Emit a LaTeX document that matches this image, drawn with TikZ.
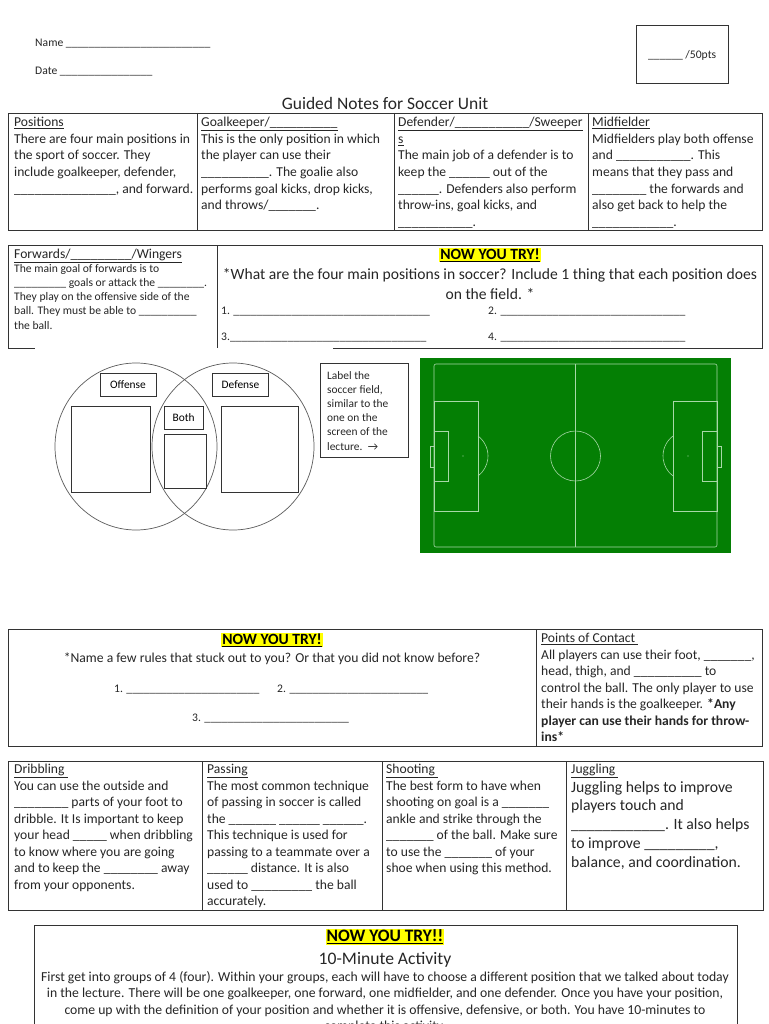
\documentclass[tikz,border=0pt]{standalone}
\usepackage{fontspec}
\setmainfont{Carlito}
\usepackage{xcolor}
\definecolor{Rule}{HTML}{333333}
\definecolor{Pitch}{HTML}{047F04}
\definecolor{PitchLine}{HTML}{A8D8A8}
\definecolor{Mark}{HTML}{FFFF00}
\catcode`\_=12
\tikzset{
  rulebox/.style={draw=Rule,line width=0.9pt},
  cell/.style={anchor=north west,align=left,inner sep=0pt,text=black!85},
  bodytext/.style={cell,font=\fontsize{13.6}{16.55}\selectfont},
  smalltext/.style={cell,font=\fontsize{11.6}{14.2}\selectfont},
  bigtext/.style={cell,font=\fontsize{15.7}{18.8}\selectfont},
  centertext/.style={inner sep=0pt,align=center,text=black!85},
  tryit/.style={inner sep=1pt,fill=Mark,font=\bfseries\fontsize{15.6}{17}\selectfont},
  vennlabel/.style={draw=Rule,line width=0.9pt,inner sep=0pt,font=\fontsize{11.4}{13}\selectfont},
  fieldline/.style={draw=PitchLine,line width=0.6pt},
}
\begin{document}
\begin{tikzpicture}[x=1pt,y=-1pt]
  \useasboundingbox (0,0) rectangle (768,1024);
  \fill[white] (0,0) rectangle (768,1024);

  % Name and score
  \node[smalltext] (name) at (35,38.5) {Name _________________________};
  \node[smalltext] (date) at (35,66.5) {Date ________________};
  \draw[rulebox] (636,25) rectangle (728,83);
  \node[smalltext] (score) at (648,50.5) {______ /50pts};
  \node[centertext,font=\fontsize{17.5}{20}\selectfont] (title) at (385,103) {Guided Notes for Soccer Unit};

  % First table
  \draw[rulebox] (8,113) rectangle (762,230);
  \draw[rulebox] (197,113) -- (197,230);
  \draw[rulebox] (394,113) -- (394,230);
  \draw[rulebox] (588,113) -- (588,230);
  \node[bodytext] (positions) at (14,117.2) {\underline{Positions}\\There are four main positions in\\the sport of soccer. They\\include goalkeeper, defender,\\_______________, and forward.};
  \node[bodytext] (goalkeeper) at (201,117.2) {\underline{Goalkeeper/__________}\\This is the only position in which\\the player can use their\\__________. The goalie also\\performs goal kicks, drop kicks,\\and throws/_______.};
  \node[bodytext] (defender) at (398,117.2) {\underline{Defender/___________/Sweeper}\\\underline{s}\\The main job of a defender is to\\keep the ______ out of the\\______. Defenders also perform\\throw-ins, goal kicks, and\\___________.};
  \node[bodytext] (midfielder) at (592,117.2) {\underline{Midfielder}\\Midfielders play both offense\\and ___________. This\\means that they pass and\\________ the forwards and\\also get back to help the\\____________.};

  % Second table
  \draw[rulebox] (8,348) -- (8,245) -- (762,245) -- (762,348) -- (333,348);
  \draw[rulebox] (8,348) -- (35,348);
  \draw[rulebox] (217,245) -- (217,348);
  \node[smalltext] (forwards) at (14,264) {The main goal of forwards is to\\_________ goals or attack the ________.\\They play on the offensive side of the\\ball. They must be able to __________\\the ball.};
  \node[bodytext] (forwardshead) at (14,248.5) {\underline{Forwards/_________/Wingers}};
  \node[tryit] (tryone) at (490,255) {\underline{NOW YOU TRY!}};
  \node[centertext,font=\fontsize{15.6}{20}\selectfont] (question) at (490,284) {*What are the four main positions in soccer? Include 1 thing that each position does\\on the field. *};
  \node[smalltext] (itemone) at (221,306.5) {1. __________________________________};
  \node[smalltext] (itemtwo) at (488,306.5) {2. ________________________________};
  \node[smalltext] (itemthree) at (221,333) {3.__________________________________};
  \node[smalltext] (itemfour) at (488,333) {4. ________________________________};

  % Venn diagram
  \draw[draw=Rule!80,line width=0.7pt] (136,446.5) ellipse [x radius=81,y radius=83.5];
  \draw[draw=Rule!80,line width=0.7pt] (233,446.5) ellipse [x radius=81,y radius=83.5];
  \node[vennlabel,minimum width=56pt,minimum height=23pt] (offense) at (128,384.5) {Offense};
  \node[vennlabel,minimum width=56pt,minimum height=23pt] (defense) at (240.5,384.5) {Defense};
  \node[vennlabel,minimum width=38.5pt,minimum height=23pt] (both) at (183.7,417.5) {Both};
  \draw[rulebox] (71,406) rectangle (150,492);
  \draw[rulebox] (164.4,434) rectangle (206.6,488);
  \draw[rulebox] (221,406) rectangle (298,492);

  % Label box
  \draw[rulebox] (320,363) rectangle (408,457);
  \node[cell,font=\fontsize{11.4}{14.2}\selectfont] (labeltext) at (327,371) {Label the\\soccer field,\\similar to the\\one on the\\screen of the\\lecture. \,→};

  % Soccer field
  \fill[Pitch] (420,358) rectangle (731,553);
  \draw[fieldline] (436,364) -- (715,364) arc [start angle=-90,end angle=0,radius=2] -- (717,545) arc [start angle=0,end angle=90,radius=2] -- (436,547) arc [start angle=90,end angle=180,radius=2] -- (434,366) arc [start angle=180,end angle=270,radius=2];
  \draw[fieldline] (575.5,364) -- (575.5,547);
  \draw[fieldline] (575.5,456) circle [radius=25];
  % left end
  \draw[fieldline] (434,401) rectangle (478,511);
  \draw[fieldline] (434,431) rectangle (448.4,481);
  \draw[fieldline] (430,446) rectangle (434,467);
  \draw[fieldline] (478,436) arc [start angle=-53.13,end angle=53.13,radius=25];
  \fill[PitchLine] (463,456) circle [radius=0.6];
  % right end
  \draw[fieldline] (673,401) rectangle (717,511);
  \draw[fieldline] (702.6,431) rectangle (717,481);
  \draw[fieldline] (717,446) rectangle (721,467);
  \draw[fieldline] (673,436) arc [start angle=233.13,end angle=126.87,radius=25];
  \fill[PitchLine] (688,456) circle [radius=0.6];
  \fill[PitchLine] (575.5,456) circle [radius=0.6];

  % Third table
  \draw[rulebox] (8,629.5) rectangle (762,746);
  \draw[rulebox] (536,629.5) -- (536,746);
  \node[tryit] (trytwo) at (272,640) {\underline{NOW YOU TRY!}};
  \node[centertext,font=\fontsize{13.65}{15}\selectfont] (rules) at (272,659) {*Name a few rules that stuck out to you? Or that you did not know before?};
  \node[smalltext] (ruleone) at (114,685) {1. _______________________};
  \node[smalltext] (ruletwo) at (277,685) {2. ________________________};
  \node[smalltext] (rulethree) at (192,714) {3. _________________________};
  \node[bodytext] (contact) at (541,633) {\underline{Points of Contact }\\All players can use their foot, _______,\\head, thigh, and __________ to\\control the ball. The only player to use\\their hands is the goalkeeper. \textbf{*Any}\\\textbf{player can use their hands for throw-}\\\textbf{ins*}};

  % Fourth table
  \draw[rulebox] (8,761) rectangle (763,910);
  \draw[rulebox] (202,761) -- (202,910);
  \draw[rulebox] (382,761) -- (382,910);
  \draw[rulebox] (566,761) -- (566,910);
  \node[bodytext] (dribbling) at (14,764) {\underline{Dribbling }\\You can use the outside and\\________ parts of your foot to\\dribble. It Is important to keep\\your head _____ when dribbling\\to know where you are going\\and to keep the ________ away\\from your opponents.};
  \node[bodytext] (passing) at (207,764) {\underline{Passing}\\The most common technique\\of passing in soccer is called\\the _______ ______ ______.\\This technique is used for\\passing to a teammate over a\\______ distance. It is also\\used to _________ the ball\\accurately.};
  \node[bodytext] (shooting) at (386,764) {\underline{Shooting }\\The best form to have when\\shooting on goal is a _______\\ankle and strike through the\\_______ of the ball. Make sure\\to use the _______ of your\\shoe when using this method.};
  \node[bodytext] (jugglinghead) at (571,764) {\underline{Juggling }};
  \node[bigtext] (juggling) at (571,781) {Juggling helps to improve\\players touch and\\____________. It also helps\\to improve _________,\\balance, and coordination.};

  % Activity box
  \draw[rulebox] (34.5,1030) -- (34.5,925) -- (737,925) -- (737,1030);
  \node[tryit,font=\bfseries\fontsize{17.4}{19}\selectfont] (trythree) at (385,936.5) {\underline{NOW YOU TRY!!}};
  \node[centertext,font=\fontsize{17.6}{19}\selectfont] (activity) at (385,960) {10-Minute Activity};
  \node[centertext,anchor=north,font=\fontsize{13.7}{16.55}\selectfont] (instructions) at (385,971) {First get into groups of 4 (four). Within your groups, each will have to choose a different position that we talked about today\\in the lecture. There will be one goalkeeper, one forward, one midfielder, and one defender. Once you have your position,\\come up with the definition of your position and whether it is offensive, defensive, or both. You have 10-minutes to\\complete this activity.};
\end{tikzpicture}
\end{document}
